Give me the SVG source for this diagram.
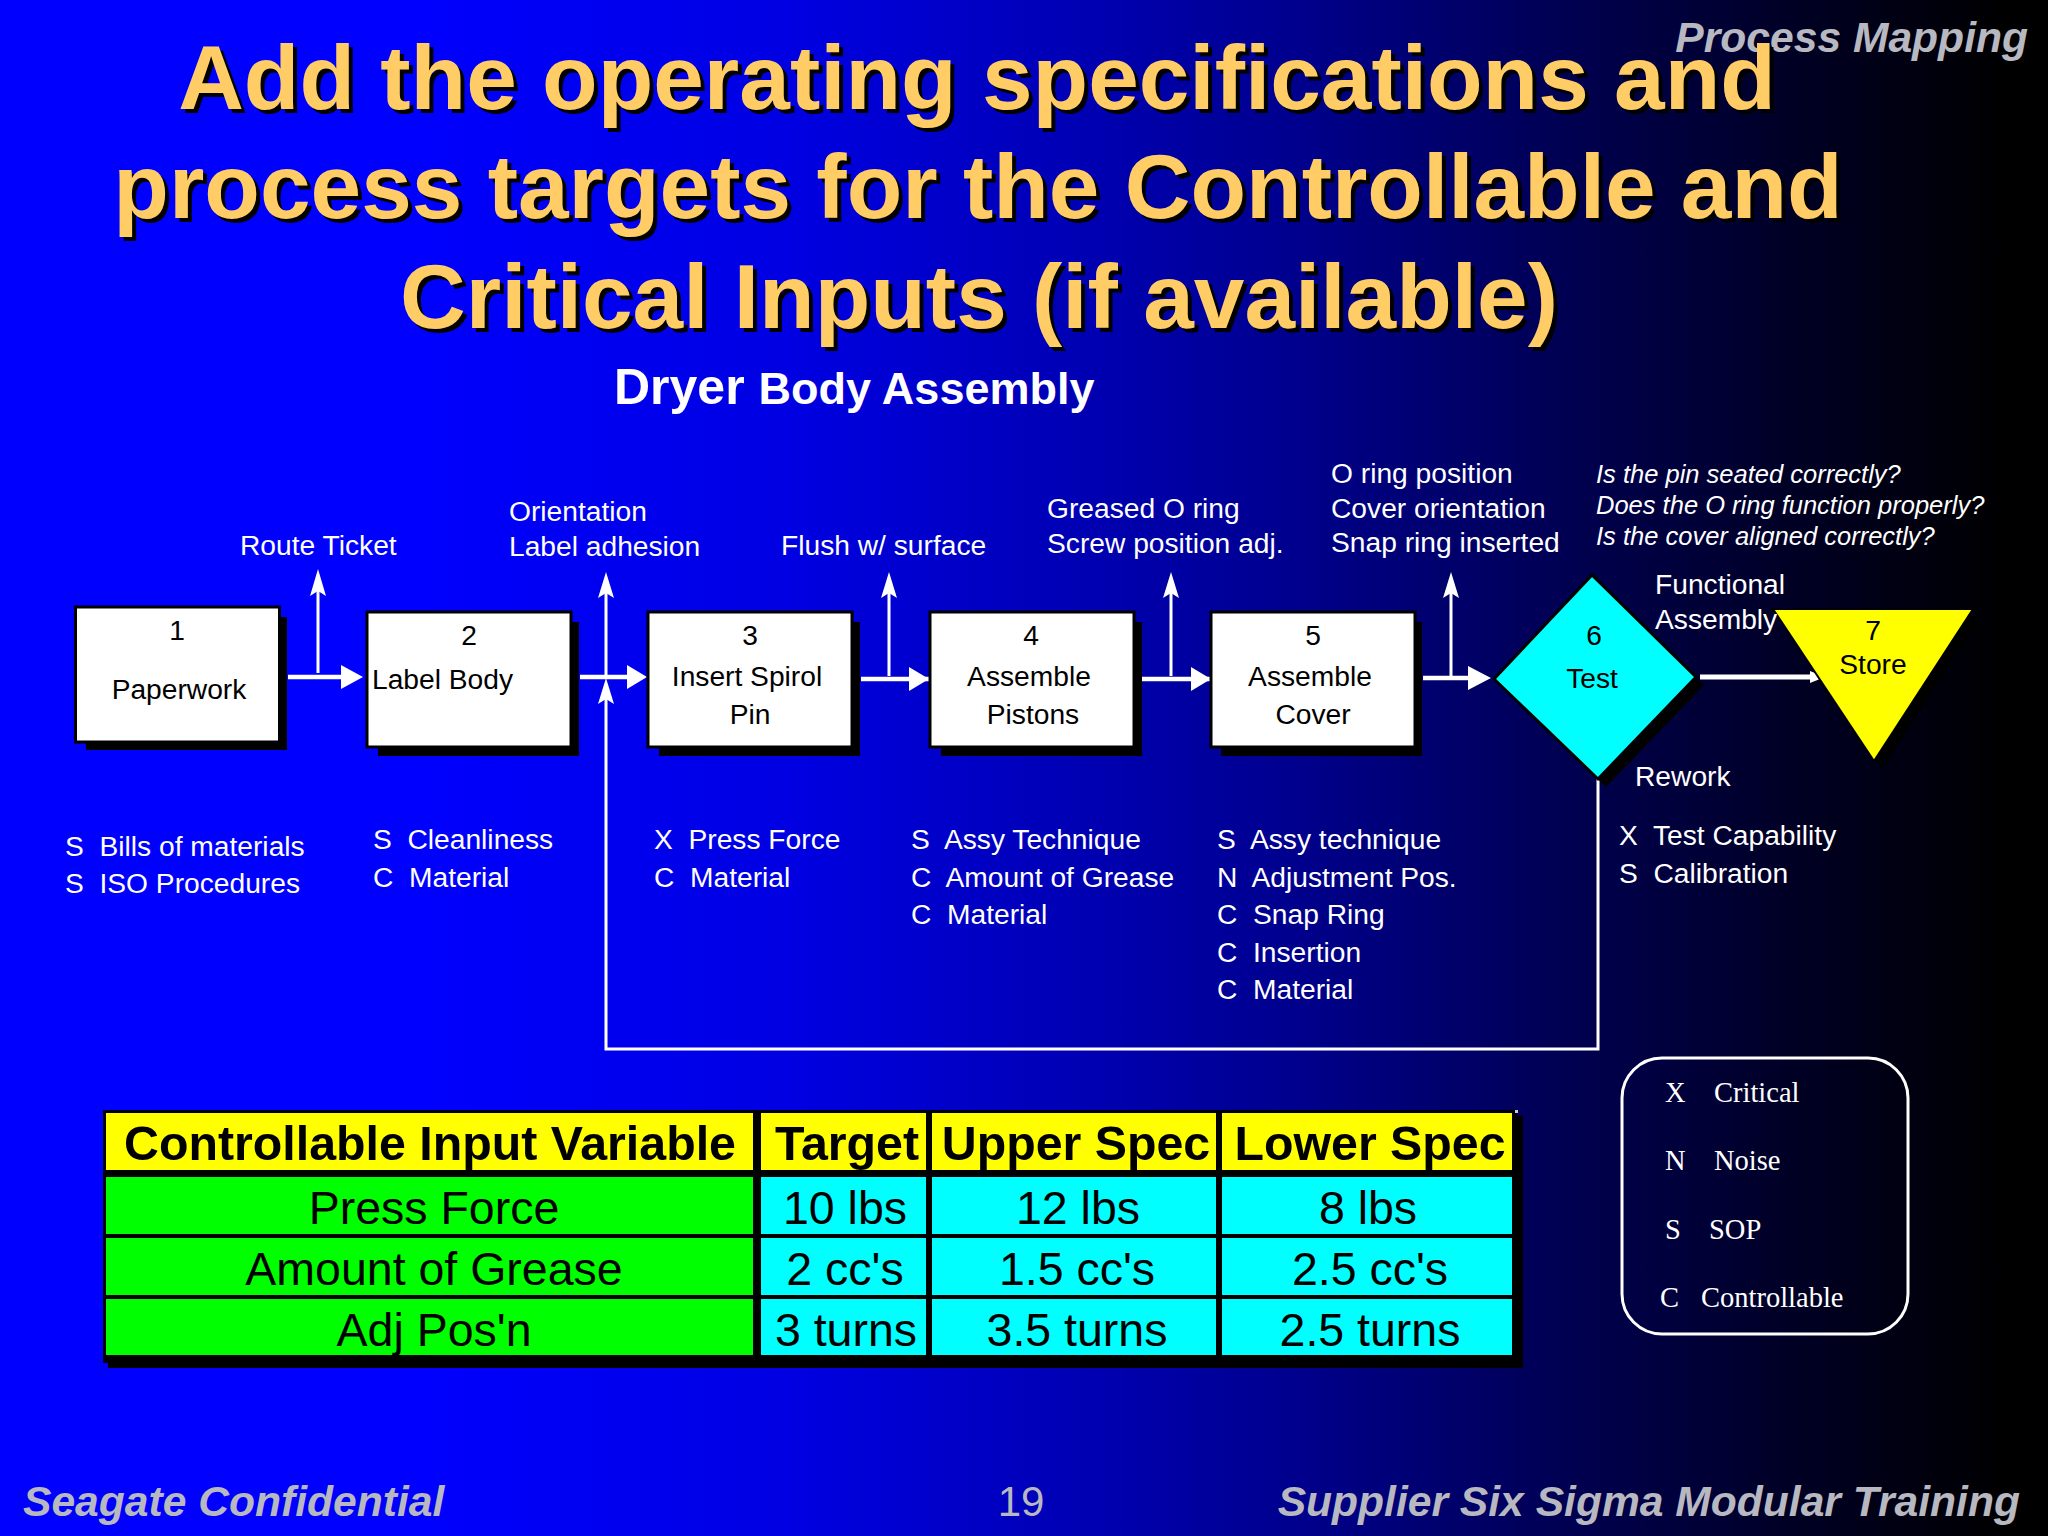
<svg xmlns="http://www.w3.org/2000/svg" width="2048" height="1536" viewBox="0 0 2048 1536">
<defs>
<linearGradient id="bg" x1="0" y1="0" x2="2048" y2="0" gradientUnits="userSpaceOnUse">
<stop offset="0" stop-color="#0000ff"/><stop offset="0.2" stop-color="#0000ff"/><stop offset="0.39" stop-color="#0000e1"/><stop offset="0.54" stop-color="#0000af"/><stop offset="0.635" stop-color="#00008c"/><stop offset="0.78" stop-color="#00004b"/><stop offset="0.88" stop-color="#000023"/><stop offset="0.98" stop-color="#000000"/><stop offset="1" stop-color="#000000"/>
</linearGradient>
</defs>
<style>
text{font-family:"Liberation Sans",Arial,sans-serif}
.t{font-size:28.2px;fill:#fff}
.k{font-size:28.2px;fill:#000}
.i{font-size:25.5px;fill:#fff;font-style:italic}
.title{font-size:91px;font-weight:bold;fill:#ffcc66;text-anchor:middle}
.ts{font-size:91px;font-weight:bold;fill:#000;text-anchor:middle}
.m{text-anchor:middle}
.box{fill:#fff;stroke:#000;stroke-width:3}
.sh{fill:#000}
.h{font-size:48.3px;font-weight:bold;fill:#000;text-anchor:middle}
.c{font-size:46.5px;fill:#000;text-anchor:middle}
.l{font-family:"Liberation Serif",serif;font-size:28.5px;fill:#fff}
.f{font-size:42.6px;font-weight:bold;font-style:italic;fill:#b8b8c0}
.ln{fill:none;stroke:#fff;stroke-width:3}
.thick{fill:none;stroke:#fff;stroke-width:4.5}
.hd{fill:#fff}
</style>
<rect width="2048" height="1536" fill="url(#bg)"/>
<text class="f" x="2028" y="52" text-anchor="end">Process Mapping</text>
<g id="title">
<text class="ts" x="981" y="113">Add the operating specifications and</text>
<text class="title" x="977" y="109">Add the operating specifications and</text>
<text class="ts" x="982" y="222">process targets for the Controllable and</text>
<text class="title" x="978" y="218">process targets for the Controllable and</text>
<text class="ts" x="983" y="332">Critical Inputs (if available)</text>
<text class="title" x="979" y="328">Critical Inputs (if available)</text>
</g>
<text x="614" y="404" font-size="50" font-weight="bold" fill="#fff">Dryer <tspan font-size="45">Body Assembly</tspan></text>
<g id="connectors">
<path class="thick" d="M288 677H345M580 677H630M861 679H932M1142 679H1214M1423 678H1472"/>
<path d="M1700 677H1815" fill="none" stroke="#fff" stroke-width="5"/>
<path class="ln" d="M318 673V590M606 677V590M889 676V590M1171 676V590M1451 676V590M1598 775V1049H606V695"/>
<path class="hd" d="M363 677L341 665V689ZM647 677L627 665V689ZM929 679L909 667V691ZM1211 679L1191 667V691ZM1491 678L1468 666V690ZM1825 677L1810 671V683Z"/>
<path class="hd" d="M318 569L326 596L318 591L310 596ZM606 572L614 598L606 593L598 598ZM889 572L897 598L889 593L881 598ZM1171 572L1179 598L1171 593L1163 598ZM1451 572L1459 598L1451 593L1443 598ZM606 678L614 704L606 699L598 704Z"/>
</g>
<g id="n1"><rect class="sh" x="86" y="617" width="201" height="133"/><rect class="box" x="75.500" y="607" width="204" height="135"/><text class="k m" x="177" y="640">1</text><text class="k m" x="179" y="699">Paperwork</text></g>
<g id="n2"><rect class="sh" x="378" y="622" width="201" height="134"/><rect class="box" x="367" y="612" width="204" height="135"/><text class="k m" x="469" y="645">2</text><text class="k" x="372" y="689">Label Body</text></g>
<g id="n3"><rect class="sh" x="659" y="622" width="201" height="134"/><rect class="box" x="648" y="612" width="204" height="135"/><text class="k m" x="747" y="686">Insert Spirol</text><text class="k m" x="750" y="645">3</text><text class="k m" x="750" y="724">Pin</text></g>
<g id="n4"><rect class="sh" x="941" y="622" width="201" height="134"/><rect class="box" x="930" y="612" width="204" height="135"/><text class="k m" x="1031" y="645">4</text><text class="k m" x="1029" y="686">Assemble</text><text class="k m" x="1033" y="724">Pistons</text></g>
<g id="n5"><rect class="sh" x="1221" y="622" width="201" height="134"/><rect class="box" x="1211" y="612" width="204" height="135"/><text class="k m" x="1313" y="645">5</text><text class="k m" x="1310" y="686">Assemble</text><text class="k m" x="1313" y="724">Cover</text></g>
<g id="n6"><path class="sh" d="M1502 687L1600 583L1704 685L1606 787Z"/><path d="M1494 679L1592 575L1696 677L1598 779Z" fill="#00ffff" stroke="#000" stroke-width="3"/><text class="k m" x="1594" y="645">6</text><text class="k m" x="1592" y="688">Test</text></g>
<g id="n7"><path class="sh" d="M1781 617H1981L1882 769Z"/><path d="M1773 609H1973L1874 761Z" fill="#ffff00" stroke="#000" stroke-width="2"/><text class="k m" x="1873" y="640">7</text><text class="k m" x="1873" y="674">Store</text></g>
<g id="labels">
<text class="t" x="240" y="555">Route Ticket</text>
<text class="t" x="509" y="521">Orientation</text><text class="t" x="509" y="556">Label adhesion</text>
<text class="t" x="781" y="555">Flush w/ surface</text>
<text class="t" x="1047" y="518">Greased O ring</text><text class="t" x="1047" y="553">Screw position adj.</text>
<text class="t" x="1331" y="483">O ring position</text><text class="t" x="1331" y="518">Cover orientation</text><text class="t" x="1331" y="552">Snap ring inserted</text>
<text class="i" x="1596" y="483">Is the pin seated correctly?</text><text class="i" x="1596" y="514">Does the O ring function properly?</text><text class="i" x="1596" y="545">Is the cover aligned correctly?</text>
<text class="t" x="1655" y="594">Functional</text><text class="t" x="1655" y="629">Assembly</text>
<text class="t" x="1635" y="786">Rework</text>
<text class="t" x="65" y="856" xml:space="preserve">S  Bills of materials</text><text class="t" x="65" y="893" xml:space="preserve">S  ISO Procedures</text>
<text class="t" x="373" y="849" xml:space="preserve">S  Cleanliness</text><text class="t" x="373" y="886.500" xml:space="preserve">C  Material</text>
<text class="t" x="654" y="849" xml:space="preserve">X  Press Force</text><text class="t" x="654" y="886.500" xml:space="preserve">C  Material</text>
<text class="t" x="911" y="849" xml:space="preserve">S  Assy Technique</text><text class="t" x="911" y="886.500" xml:space="preserve">C  Amount of Grease</text><text class="t" x="911" y="924" xml:space="preserve">C  Material</text>
<text class="t" x="1217" y="849" xml:space="preserve">S  Assy technique</text><text class="t" x="1217" y="886.500" xml:space="preserve">N  Adjustment Pos.</text><text class="t" x="1217" y="924" xml:space="preserve">C  Snap Ring</text><text class="t" x="1217" y="961.500" xml:space="preserve">C  Insertion</text><text class="t" x="1217" y="999" xml:space="preserve">C  Material</text>
<text class="t" x="1619" y="845" xml:space="preserve">X  Test Capability</text><text class="t" x="1619" y="882.500" xml:space="preserve">S  Calibration</text>
</g>
<g id="legend">
<rect x="1622" y="1058" width="286" height="276" rx="40" fill="none" stroke="#fff" stroke-width="3"/>
<text class="l" x="1665" y="1102">X</text><text class="l" x="1714" y="1102">Critical</text>
<text class="l" x="1665" y="1170">N</text><text class="l" x="1714" y="1170">Noise</text>
<text class="l" x="1665" y="1239">S</text><text class="l" x="1709" y="1239">SOP</text>
<text class="l" x="1660" y="1307">C</text><text class="l" x="1701" y="1307">Controllable</text>
</g>
<g id="table">
<rect class="sh" x="108" y="1116" width="1415" height="252"/>
<rect class="sh" x="103" y="1110" width="1414" height="253"/>
<path d="M1515 1110h3v3h-3z" fill="#ccc"/>
<g fill="#ffff00"><rect x="106" y="1113" width="647" height="57"/><rect x="761" y="1113" width="165" height="57"/><rect x="932" y="1113" width="284" height="57"/><rect x="1222" y="1113" width="290" height="57"/></g>
<g fill="#00ff00"><rect x="106" y="1177" width="647" height="57"/><rect x="106" y="1238" width="647" height="57"/><rect x="106" y="1299" width="647" height="56"/></g>
<g fill="#00ffff"><rect x="761" y="1177" width="165" height="57"/><rect x="761" y="1238" width="165" height="57"/><rect x="761" y="1299" width="165" height="56"/><rect x="932" y="1177" width="284" height="57"/><rect x="932" y="1238" width="284" height="57"/><rect x="932" y="1299" width="284" height="56"/><rect x="1222" y="1177" width="290" height="57"/><rect x="1222" y="1238" width="290" height="57"/><rect x="1222" y="1299" width="290" height="56"/></g>
<text class="h" x="430" y="1160">Controllable Input Variable</text><text class="h" x="847" y="1160">Target</text><text class="h" x="1076" y="1160">Upper Spec</text><text class="h" x="1370" y="1160">Lower Spec</text>
<text class="c" x="434" y="1224">Press Force</text><text class="c" x="845" y="1224">10 lbs</text><text class="c" x="1078" y="1224">12 lbs</text><text class="c" x="1368" y="1224">8 lbs</text>
<text class="c" x="434" y="1285">Amount of Grease</text><text class="c" x="845" y="1285">2 cc's</text><text class="c" x="1077" y="1285">1.5 cc's</text><text class="c" x="1370" y="1285">2.5 cc's</text>
<text class="c" x="434" y="1346">Adj Pos'n</text><text class="c" x="846" y="1346">3 turns</text><text class="c" x="1077" y="1346">3.5 turns</text><text class="c" x="1370" y="1346">2.5 turns</text>
</g>
<text class="f" x="23" y="1516">Seagate Confidential</text>
<text x="1021" y="1516" font-size="42" fill="#b8b8c0" text-anchor="middle">19</text>
<text class="f" x="2020" y="1516" text-anchor="end">Supplier Six Sigma Modular Training</text>
</svg>
